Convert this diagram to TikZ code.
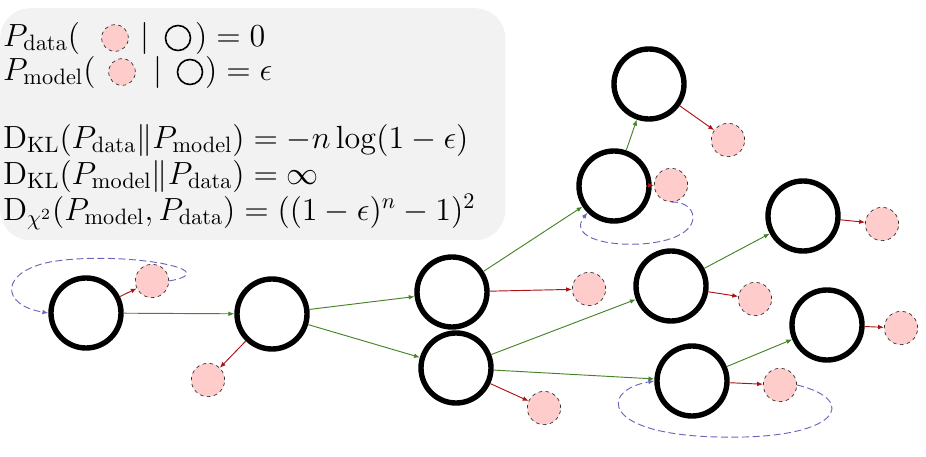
\documentclass[tikz,border=0pt]{standalone}
\usetikzlibrary{arrows.meta}
\newcommand{\bx}[1]{\scalebox{1.9}{#1}}
\begin{document}
\begin{tikzpicture}[x=0.03cm,y=-0.03cm,
 big/.style={circle,draw=black,line width=4.6pt,minimum size=2.1cm,inner sep=0pt},
 sm/.style={circle,draw=black!80,dashed,fill=red!20,line width=0.6pt,minimum size=1.0cm,inner sep=0pt},
 ism/.style={circle,draw=black!80,dashed,fill=red!20,line width=0.6pt,minimum size=0.8cm,inner sep=0pt},
 ibig/.style={circle,draw=black,line width=1.4pt,minimum size=0.75cm,inner sep=0pt},
 ge/.style={draw={rgb,255:red,70;green,130;blue,40},line width=0.8pt,-{Latex[length=5pt,width=4pt]}},
 re/.style={draw={rgb,255:red,170;green,20;blue,20},line width=0.8pt,-{Latex[length=5pt,width=4pt]}},
 lp/.style={draw={rgb,255:red,110;green,100;blue,190},dash pattern=on 6pt off 3pt,line width=0.8pt,-{Latex[length=5pt,width=4pt]}},
 tx/.style={anchor=west,inner sep=0pt,font=\Large}]
\useasboundingbox (0,0) rectangle (926,457);
\node[draw=none,fill=black!5,rounded corners=0.9cm,minimum width=15.15cm,minimum height=6.96cm,anchor=north west] (box) at (0,8) {};
\node[tx] (l1a) at (3,38) {\bx{$P_{\mathrm{data}}($}};
\node[ism] (i1) at (115,38) {};
\node[tx] (l1b) at (140,38) {\bx{$|$}};
\node[ibig] (i2) at (178,38) {};
\node[tx] (l1c) at (195,38) {\bx{$)=0$}};
\node[tx] (l2a) at (3,72) {\bx{$P_{\mathrm{model}}($}};
\node[ism] (i3) at (122,72) {};
\node[tx] (l2b) at (153,72) {\bx{$|$}};
\node[ibig] (i4) at (190,72) {};
\node[tx] (l2c) at (205,72) {\bx{$)=\epsilon$}};
\node[tx] (l3) at (3,140) {\bx{$\mathrm{D}_{\mathrm{KL}}(P_{\mathrm{data}}\|P_{\mathrm{model}})=-n\log(1-\epsilon)$}};
\node[tx] (l4) at (3,176) {\bx{$\mathrm{D}_{\mathrm{KL}}(P_{\mathrm{model}}\|P_{\mathrm{data}})=\infty$}};
\node[tx] (l5) at (3,212) {\bx{$\mathrm{D}_{\chi^2}(P_{\mathrm{model}},P_{\mathrm{data}})=((1-\epsilon)^n-1)^2$}};
% big nodes
\node[big] (A) at (86,313) {};
\node[big] (B) at (272,314) {};
\node[big] (C) at (452,292) {};
\node[big] (D) at (456,368) {};
\node[big] (E) at (614,186) {};
\node[big] (F) at (649,84) {};
\node[big] (G) at (671,286) {};
\node[big] (H) at (692,381) {};
\node[big] (I) at (803,216) {};
\node[big] (J) at (827,325) {};
% small
\node[sm] (sA) at (152,281) {};
\node[sm] (sB) at (208,380) {};
\node[sm] (sC) at (589,289) {};
\node[sm] (sD) at (544,408) {};
\node[sm] (sE) at (671,185) {};
\node[sm] (sF) at (728,140) {};
\node[sm] (sG) at (755,299) {};
\node[sm] (sH) at (780,385) {};
\node[sm] (sI) at (882,224) {};
\node[sm] (sJ) at (901,328) {};
\foreach \a/\b in {A/B,B/C,B/D,C/E,E/F,D/G,D/H,G/I,H/J} \draw[ge] (\a) -- (\b);
\foreach \a in {A,B,C,D,E,F,G,H,I,J} \draw[re] (\a) -- (s\a);
\draw[lp] (sA.east) .. controls (230,270) and (120,250) .. (50,262) .. controls (0,272) and (0,305) .. (A.west);
\draw[lp] (sE.south) .. controls (700,200) and (710,240) .. (640,244) .. controls (600,246) and (570,235) .. (E.south west);
\draw[lp] (sH.east) .. controls (860,400) and (840,440) .. (720,437) .. controls (600,435) and (600,390) .. (H.west);
\end{tikzpicture}
\end{document}
